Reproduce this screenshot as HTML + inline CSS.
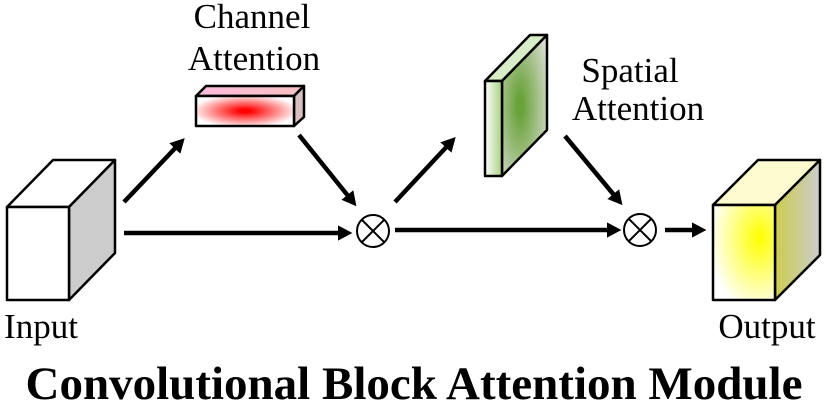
<!DOCTYPE html>
<html><head><style>body{margin:0;background:#fff}svg{display:block}</style></head><body>
<svg width="828" height="406" viewBox="0 0 828 406" xmlns="http://www.w3.org/2000/svg" font-family="Liberation Serif, serif">
<defs>
<marker id="a" markerWidth="4" markerHeight="4" refX="2" refY="2" orient="auto" markerUnits="strokeWidth"><path d="M0,0.3 L3.2,2 L0,3.7 Z" fill="#000"/></marker>
<radialGradient id="r" cx="0.5" cy="0.5" r="0.55"><stop offset="0.1" stop-color="#f00"/><stop offset="1" stop-color="#fff"/></radialGradient>
<radialGradient id="g" cx="0.4" cy="0.5" r="0.7"><stop offset="0.1" stop-color="#6aa23a"/><stop offset="1" stop-color="#d8dcd0"/></radialGradient>
<linearGradient id="gf" x1="0" x2="1"><stop offset="0" stop-color="#fff"/><stop offset="1" stop-color="#a8d080"/></linearGradient>
<radialGradient id="y" cx="0.75" cy="0.35" r="0.8"><stop offset="0" stop-color="#ff0"/><stop offset="1" stop-color="#fff"/></radialGradient>
<linearGradient id="ys" x1="0" x2="1"><stop offset="0" stop-color="#cccc50"/><stop offset="1" stop-color="#ccc"/></linearGradient>
<linearGradient id="rt" x1="0" x2="1"><stop offset="0" stop-color="#fbd"/><stop offset="1" stop-color="#f6c0c0"/></linearGradient>
</defs>
<g stroke="#000" stroke-width="2.5" stroke-linejoin="round">
<polygon points="7,207 53,160 115,160 69,207" fill="#fff"/>
<polygon points="69,207 115,160 115,253 69,300" fill="#ccc"/>
<rect x="7" y="207" width="62" height="93" fill="#fff"/>
<polygon points="196,96 206,86 304,86 294,96" fill="url(#rt)"/>
<polygon points="294,96 304,86 304,117 294,126" fill="#d8c0c0"/>
<rect x="196" y="96" width="98" height="30" fill="url(#r)"/>
<polygon points="485,81 530,35 547,35 502,81" fill="#d8ecc8"/>
<polygon points="502,81 547,35 547,130 502,176" fill="url(#g)"/>
<rect x="485" y="81" width="17" height="95" fill="url(#gf)"/>
<polygon points="713,205 758,160 820,160 775,205" fill="#fffbd0"/>
<polygon points="775,205 820,160 820,255 775,300" fill="url(#ys)"/>
<rect x="713" y="205" width="62" height="95" fill="url(#y)"/>
</g>
<g stroke="#000" stroke-width="4.5" fill="none">
<line x1="124" y1="202" x2="181" y2="142" marker-end="url(#a)"/>
<line x1="124" y1="233" x2="347" y2="233" marker-end="url(#a)"/>
<line x1="299" y1="135" x2="353" y2="202" marker-end="url(#a)"/>
<line x1="395" y1="202" x2="452" y2="141" marker-end="url(#a)"/>
<line x1="395" y1="230" x2="616" y2="230" marker-end="url(#a)"/>
<line x1="565" y1="136" x2="619" y2="201" marker-end="url(#a)"/>
<line x1="665" y1="230" x2="701" y2="230" marker-end="url(#a)"/>
</g>
<g stroke="#000" stroke-width="2" fill="#fff">
<circle cx="373" cy="231" r="16"/>
<line x1="362" y1="220" x2="384" y2="242"/><line x1="384" y1="220" x2="362" y2="242"/>
<circle cx="640" cy="230" r="16"/>
<line x1="629" y1="219" x2="651" y2="241"/><line x1="651" y1="219" x2="629" y2="241"/>
</g>
<g font-size="35" fill="#000" text-anchor="middle">
<text x="252" y="28">Channel</text>
<text x="254" y="70">Attention</text>
<text x="630" y="82">Spatial</text>
<text x="638" y="120">Attention</text>
<text x="41" y="338">Input</text>
<text x="767" y="338">Output</text>
</g>
<text x="414" y="399" font-size="47" font-weight="bold" text-anchor="middle">Convolutional Block Attention Module</text>
</svg>
</body></html>
